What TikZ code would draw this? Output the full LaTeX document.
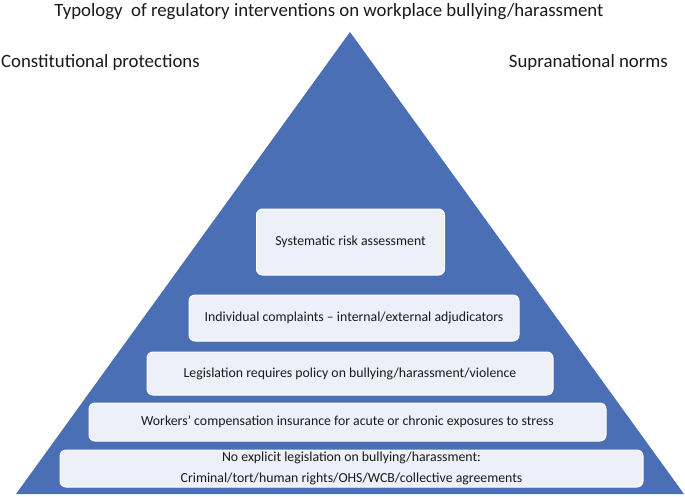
\documentclass[tikz,border=0pt]{standalone}
\usepackage{fontspec}
\setmainfont{Carlito}
\definecolor{pyr}{HTML}{4A6FB5}
\definecolor{boxfill}{HTML}{EEF0F9}
\definecolor{txt}{HTML}{1A1A1A}
\begin{document}
\begin{tikzpicture}[x=1pt,y=-1pt,
  layer/.style={draw=white,line width=1pt,fill=boxfill,rounded corners=6pt,text=txt,font=\fontsize{13.8}{16}\selectfont,align=center,inner sep=0pt},
  heading/.style={text=txt,font=\fontsize{18.8}{22}\selectfont,inner sep=0pt}]
\useasboundingbox (0,0) rectangle (685,496);
\fill[pyr] (350,32) -- (684,494) -- (16,494) -- cycle;
\node[heading] (title) at (329,12) {Typology\ \ of regulatory interventions on workplace bullying/harassment};
\node[heading,anchor=west] (const) at (1,62) {Constitutional protections};
\node[heading,anchor=east] (supra) at (668,62) {Supranational norms};
\node[layer,minimum width=188pt,minimum height=66pt] (l1) at (350.5,242) {Systematic risk assessment};
\node[layer,minimum width=330pt,minimum height=46pt] (l2) at (354,318) {Individual complaints -- internal/external adjudicators};
\node[layer,minimum width=406pt,minimum height=43pt] (l3) at (350,373.5) {Legislation requires policy on bullying/harassment/violence};
\node[layer,minimum width=517pt,minimum height=38pt] (l4) at (347.5,422) {Workers' compensation insurance for acute or chronic exposures to stress};
\node[layer,minimum width=583pt,minimum height=37pt,font=\fontsize{13.8}{21}\selectfont] (l5) at (351.5,468.5) {No explicit legislation on bullying/harassment:\\Criminal/tort/human rights/OHS/WCB/collective agreements};
\end{tikzpicture}
\end{document}
